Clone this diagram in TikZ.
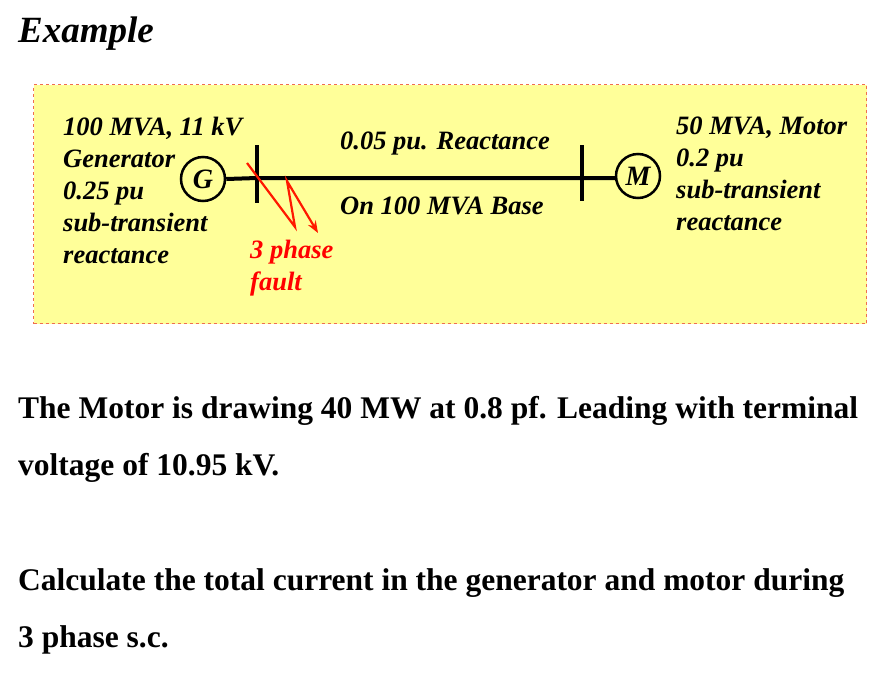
\documentclass[tikz,border=0pt]{standalone}
\usepackage{fontspec}
\setmainfont{Liberation Serif}
\usetikzlibrary{arrows.meta}
\begin{document}
\begin{tikzpicture}[x=1pt,y=-1pt,
  lbl/.style={font=\fontsize{26.5}{32}\selectfont\bfseries\itshape,align=left,anchor=north west,inner sep=0pt},
  body/.style={font=\fontsize{31.5}{36}\selectfont\bfseries,anchor=west,inner sep=0pt},
  mach/.style={circle,draw,line width=2.5pt,minimum size=44pt,inner sep=0pt,font=\fontsize{28}{28}\selectfont\bfseries\itshape},
  wire/.style={line width=4pt}]
\useasboundingbox (0,0) rectangle (893,675);
\node[anchor=west,inner sep=0pt,font=\fontsize{37}{40}\selectfont\bfseries\itshape] (title) at (18,34) {Example};
\node[draw={rgb,255:red,240;green,110;blue,80},dashed,fill={rgb,255:red,255;green,255;blue,153},minimum width=833pt,minimum height=239pt,anchor=north west,inner sep=0pt,line width=1.3pt] (box) at (33,84) {};
\node[lbl] (gtxt) at (63,117) {100 MVA, 11 kV\\Generator\\0.25 pu\\sub-transient\\reactance};
\node[mach] (G) at (203,179) {G};
\node[mach] (M) at (638,176) {M};
\coordinate (b1t) at (257,145); \coordinate (b1b) at (257,203);
\coordinate (b2t) at (582,145); \coordinate (b2b) at (582,201);
\draw[wire] (b1t) -- (b1b);
\draw[wire] (b2t) -- (b2b);
\draw[wire] (G.east) -- (257,178) -- (582,178) -- (M.west|-582,178);
\node[lbl] (ltxt) at (340,132) {0.05 pu. Reactance};
\node[lbl] (btxt) at (340,197) {On 100 MVA Base};
\node[lbl] (mtxt) at (676,117) {50 MVA, Motor\\0.2 pu\\sub-transient\\reactance};
\coordinate (f0) at (247,163);
\coordinate (f1) at (295,227);
\coordinate (f2) at (287,181);
\coordinate (f3) at (318,233);
\draw[red!80!orange,line width=2.2pt,-{Stealth[length=12pt,width=9pt]}] (f0) -- (f1) -- (f2) -- (f3);
\node[lbl,red] (ftxt) at (250,240) {3 phase\\fault};
\node[body] (p1) at (18,411) {The Motor is drawing 40 MW at 0.8 pf. Leading with terminal};
\node[body] (p2) at (18,468) {voltage of 10.95 kV.};
\node[body] (p3) at (18,583) {Calculate the total current in the generator and motor during};
\node[body] (p4) at (18,640) {3 phase s.c.};
\end{tikzpicture}
\end{document}
